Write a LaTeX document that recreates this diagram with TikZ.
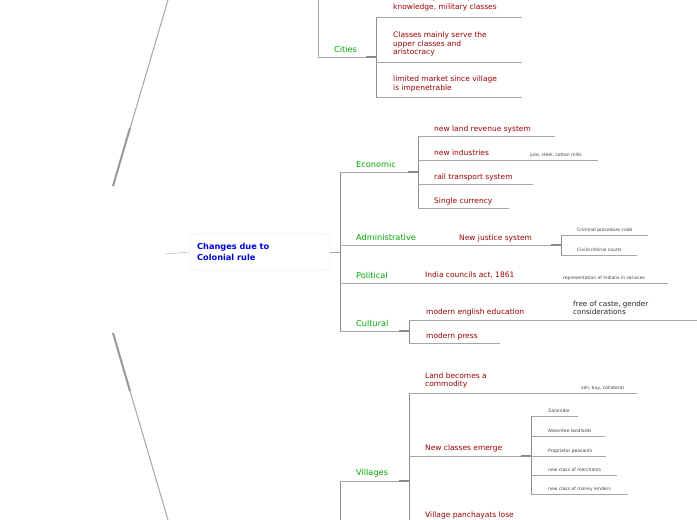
\documentclass[tikz,border=0pt]{standalone}
\usepackage{fontspec}
\setmainfont{DejaVu Sans}
\begin{document}
\begin{tikzpicture}[x=1pt,y=-1pt,
  ln/.style={draw=black!35,line width=0.8pt},
  br/.style={draw=black!45,line width=0.8pt},
  cat/.style={text=green!65!black,font=\fontsize{8.2}{9}\selectfont,anchor=west,inner sep=0},
  itm/.style={text=red!60!black,font=\fontsize{7.5}{8.6}\selectfont,anchor=west,inner sep=0,align=left},
  tiny/.style={text=black!75,font=\fontsize{4.5}{5}\selectfont,anchor=west,inner sep=0},
  sm/.style={text=black!85,font=\fontsize{7.2}{8.2}\selectfont,anchor=west,inner sep=0,align=left}]
\useasboundingbox (0,0) rectangle (697,520);
\clip (0,0) rectangle (697,520);
% diagonals
\coordinate (d1a) at (113,186); \coordinate (d1b) at (168,0);
\coordinate (d2a) at (113,333); \coordinate (d2b) at (168,520);
\draw[black!35,line width=1pt] (d1a)--(d1b);
\draw[black!35,line width=1pt] (d2a)--(d2b);
\draw[black!40,line width=2pt] (113,186)--(130,128);
\draw[black!40,line width=2pt] (113,333)--(130,391);
% central node
\node[draw=black!12,fill=white,rounded corners=3pt,minimum width=140pt,minimum height=36pt] (c) at (260,252) {};
\node[text=blue!85!black,font=\bfseries\fontsize{8.2}{10.5}\selectfont,anchor=west,align=left,inner sep=0] (ct) at (197,252) {Changes due to\\Colonial rule};
\coordinate (cin) at (165,254);
\draw[black!35] (cin)--(c.west);
% top region
\coordinate (t0) at (318,0); \coordinate (t1) at (318,57);
\draw[ln] (t0)--(t1)--(376,57);
\node[cat] (cities) at (334,49) {Cities};
\draw[br] (376,17)--(376,97);
\draw[br,line width=1.3pt] (366,57)--(376,57);
\foreach \y/\e in {17/522,62/522,97/522} \draw[ln] (376,\y)--(\e,\y);
\node[itm] (ci1) at (393,3) {aristocrats, artisans,\\knowledge, military classes};
\node[itm] (ci2) at (393,44) {Classes mainly serve the\\upper classes and\\aristocracy};
\node[itm] (ci3) at (393,84) {limited market since village\\is impenetrable};
% main spine
\draw[ln] (c.east)--(340,252);
\draw[br] (340,172)--(340,331);
% Economic
\draw[ln] (340,172)--(408,172);
\draw[br,line width=1.3pt] (408,172)--(418,172);
\node[cat] (eco) at (356,164) {Economic};
\draw[br] (418,136)--(418,208);
\draw[ln] (418,136)--(555,136);
\draw[ln] (418,160)--(598,160);
\draw[ln] (418,184)--(533,184);
\draw[ln] (418,208)--(509,208);
\node[itm] (e1) at (434,129) {new land revenue system};
\node[itm] (e2) at (434,153) {new industries};
\node[tiny] (e2a) at (530,155) {jute, steel, cotton mills};
\node[itm] (e3) at (434,177) {rail transport system};
\node[itm] (e4) at (434,201) {Single currency};
% Administrative
\draw[ln] (340,245)--(561,245);
\draw[br,line width=1.3pt] (551,245)--(561,245);
\node[cat] (adm) at (356,237) {Administrative};
\node[itm] (a1) at (459,238) {New justice system};
\draw[br] (561,235)--(561,255);
\draw[ln] (561,235)--(648,235);
\draw[ln] (561,255)--(637,255);
\node[tiny] (a1a) at (577,230) {Criminal procedure code};
\node[tiny] (a1b) at (577,250) {Civil/criminal courts};
% Political
\draw[ln] (340,283)--(668,283);
\node[cat] (pol) at (356,275) {Political};
\node[itm] (p1) at (425,275) {India councils act, 1861};
\node[tiny] (p1a) at (563,278) {representation of Indians in services};
% Cultural
\draw[ln] (340,331)--(409,331);
\draw[br,line width=1.3pt] (399,331)--(409,331);
\node[cat] (cul) at (356,323) {Cultural};
\draw[br] (409,320)--(409,343);
\draw[ln] (409,320)--(697,320);
\draw[ln] (409,343)--(500,343);
\node[itm] (u1) at (426,312) {modern english education};
\node[sm] (u1a) at (573,307.5) {free of caste, gender\\considerations};
\node[itm] (u2) at (426,336) {modern press};
% Villages
\draw[br] (340,481)--(340,520);
\draw[ln] (340,481)--(409,481);
\draw[br,line width=1.3pt] (399,481)--(409,481);
\node[cat] (vil) at (356,473) {Villages};
\draw[br] (409,393)--(409,520);
\draw[ln] (409,393)--(637,393);
\node[itm] (v1) at (425,380.5) {Land becomes a\\commodity};
\node[tiny] (v1a) at (581,388) {sell, buy, collateral};
\draw[ln] (409,456)--(531,456);
\draw[br,line width=1.3pt] (521,456)--(531,456);
\node[itm] (v2) at (425,448) {New classes emerge};
\draw[br] (531,416)--(531,494);
\foreach \y/\e/\t in {416/578/Zamindar,436/605/Absentee landlords,456/606/Proprietor peasants,475/617/new class of merchants,494/628/new class of money lenders}{
  \draw[ln] (531,\y)--(\e,\y);
  \node[tiny] at (548,\y-5) {\t};
}
\node[itm] (v3) at (425,515) {Village panchayats lose};
\end{tikzpicture}
\end{document}
